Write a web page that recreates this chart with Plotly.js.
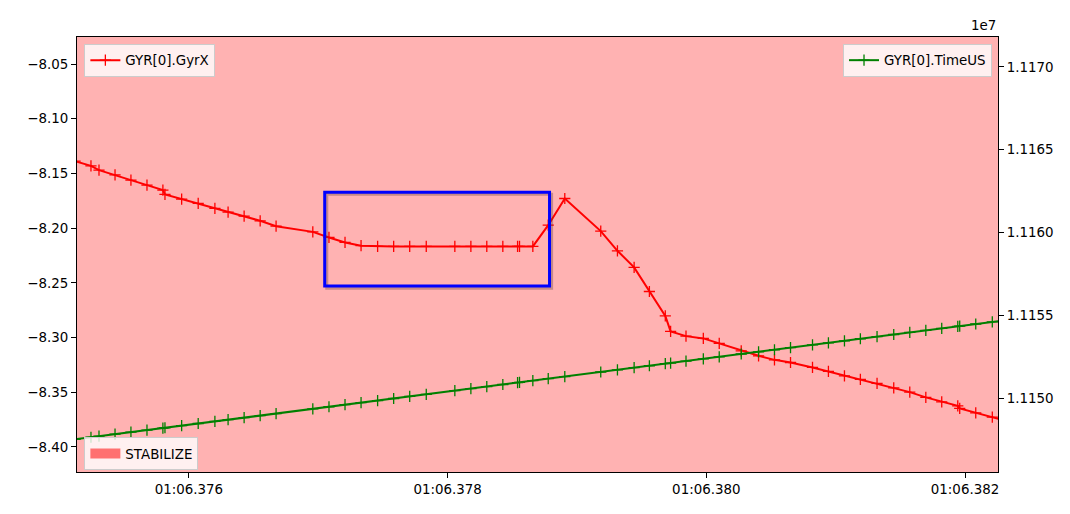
<!DOCTYPE html>
<html>
<head>
<meta charset="utf-8">
<script src="https://cdn.plot.ly/plotly-3.0.1.min.js"></script>
<style>html,body{margin:0;padding:0;background:#fff}#chart{width:1070px;height:514px}</style>
</head>
<body>
<div id="chart"></div>
<script>
// Time of each GYR[0] sample, in ms after 01:06 (mm:ss)
const timeMs = [375.120, 375.243, 375.305, 375.429, 375.552, 375.676, 375.799, 375.815, 375.944, 376.072,
  376.201, 376.303, 376.427, 376.551, 376.674, 376.958, 377.083, 377.207, 377.331, 377.459,
  377.583, 377.707, 377.835, 378.056, 378.180, 378.303, 378.427, 378.541, 378.556, 378.659,
  378.778, 378.906, 379.184, 379.313, 379.442, 379.560, 379.683, 379.724, 379.843, 379.977,
  380.100, 380.270, 380.404, 380.527, 380.651, 380.821, 380.944, 381.068, 381.191, 381.320,
  381.449, 381.573, 381.697, 381.820, 381.944, 381.959, 382.083, 382.211, 382.332];

// GYR[0].GyrX (left axis)
const gyrX = [-8.1388, -8.1431, -8.1470, -8.1513, -8.1561, -8.1607, -8.1653, -8.1692, -8.1735, -8.1774,
  -8.1820, -8.1854, -8.1890, -8.1933, -8.1982, -8.2034, -8.2085, -8.2131, -8.2160, -8.2167,
  -8.2167, -8.2167, -8.2167, -8.2167, -8.2167, -8.2167, -8.2167, -8.2167, -8.2167, -8.2167,
  -8.1973, -8.1729, -8.2027, -8.2207, -8.2359, -8.2579, -8.2802, -8.2944, -8.2987, -8.3008,
  -8.3054, -8.3121, -8.3167, -8.3204, -8.3228, -8.3273, -8.3310, -8.3350, -8.3383, -8.3419,
  -8.3460, -8.3499, -8.3547, -8.3588, -8.3624, -8.3648, -8.3688, -8.3727, -8.3767];

// GYR[0].TimeUS (right axis)
const timeUS = [11147516, 11147639, 11147701, 11147825, 11147948, 11148072, 11148195, 11148211, 11148340, 11148468,
  11148597, 11148699, 11148823, 11148947, 11149070, 11149354, 11149479, 11149603, 11149727, 11149855,
  11149979, 11150103, 11150231, 11150452, 11150576, 11150699, 11150823, 11150937, 11150952, 11151055,
  11151174, 11151302, 11151580, 11151709, 11151838, 11151956, 11152079, 11152120, 11152239, 11152373,
  11152496, 11152666, 11152800, 11152923, 11153047, 11153217, 11153340, 11153464, 11153587, 11153716,
  11153845, 11153969, 11154093, 11154216, 11154340, 11154355, 11154479, 11154607, 11154728];

// Flight mode span
const modeNames = ['STABILIZE'];
const modeStart = [375.0];
const modeEnd = [382.5];

// Highlight box (time ms, GyrX value)
const boxTime = [377.050, 378.788];
const boxGyr = [-8.1671, -8.2530];

// Tick labels
const xTickVals = [376, 378, 380, 382];
const xTickText = ['01:06.376', '01:06.378', '01:06.380', '01:06.382'];
const y2TickVals = [11150000, 11155000, 11160000, 11165000, 11170000];
const y2TickText = ['1.1150', '1.1155', '1.1160', '1.1165', '1.1170'];

const FONT = {family: 'DejaVu Sans', size: 13.4, color: '#000'};
const legendBase = {bgcolor: 'rgba(255,255,255,0.8)', bordercolor: '#cccccc', borderwidth: 1,
  font: FONT, itemwidth: 30, tracegroupgap: 0};

const traces = [
  {x: timeMs, y: gyrX, name: 'GYR[0].GyrX', mode: 'lines+markers', yaxis: 'y', legend: 'legend',
   line: {color: '#ff0000', width: 2},
   marker: {symbol: 'cross-thin', size: 8, color: '#ff0000', line: {color: '#ff0000', width: 1.3}}},
  {x: timeMs, y: timeUS, name: 'GYR[0].TimeUS', mode: 'lines+markers', yaxis: 'y2', legend: 'legend2',
   line: {color: '#008000', width: 2},
   marker: {symbol: 'cross-thin', size: 8, color: '#008000', line: {color: '#008000', width: 1.3}}},
  {x: [null], y: [null], name: modeNames[0], mode: 'lines', legend: 'legend3',
   line: {color: 'rgba(255,70,70,0.75)', width: 10}}
];

const shapes = [];
for (let i = 0; i < modeNames.length; i++) {
  shapes.push({type: 'rect', xref: 'x', yref: 'paper', x0: modeStart[i], x1: modeEnd[i], y0: 0, y1: 1,
    fillcolor: 'rgba(255,0,0,0.3)', line: {width: 0}, layer: 'below'});
}
// shadow of highlight box
const sdx = 0.016, sdy = 0.0019;
shapes.push({type: 'rect', xref: 'x', yref: 'y', x0: boxTime[0] + sdx, x1: boxTime[1] + sdx,
  y0: boxGyr[0] - sdy, y1: boxGyr[1] - sdy, line: {color: 'rgba(90,60,60,0.35)', width: 3}});
shapes.push({type: 'rect', xref: 'x', yref: 'y', x0: boxTime[0], x1: boxTime[1],
  y0: boxGyr[0], y1: boxGyr[1], line: {color: '#0000ff', width: 3}});

const layout = {
  width: 1070, height: 514,
  margin: {l: 77, r: 72, t: 37, b: 42, pad: 0},
  paper_bgcolor: '#ffffff', plot_bgcolor: '#ffffff',
  font: FONT,
  showlegend: true,
  xaxis: {range: [375.135, 382.255], tickvals: xTickVals, ticktext: xTickText,
    showgrid: false, zeroline: false, showline: true, linecolor: '#000', linewidth: 1, mirror: true,
    ticks: 'outside', ticklen: 5, tickwidth: 1, tickcolor: '#000', tickfont: FONT},
  yaxis: {range: [-8.4229, -8.0253], tick0: -8.4, dtick: 0.05, tickformat: '.2f',
    showgrid: false, zeroline: false, showline: true, linecolor: '#000', linewidth: 1,
    ticks: 'outside', ticklen: 5, tickwidth: 1, tickcolor: '#000', tickfont: FONT},
  yaxis2: {overlaying: 'y', side: 'right', range: [11145540, 11171810],
    tickvals: y2TickVals, ticktext: y2TickText,
    showgrid: false, zeroline: false, showline: true, linecolor: '#000', linewidth: 1,
    ticks: 'outside', ticklen: 5, tickwidth: 1, tickcolor: '#000', tickfont: FONT},
  legend: Object.assign({}, legendBase, {x: 0.008, y: 0.984, xanchor: 'left', yanchor: 'top'}),
  legend2: Object.assign({}, legendBase, {x: 0.9935, y: 0.984, xanchor: 'right', yanchor: 'top'}),
  legend3: Object.assign({}, legendBase, {x: 0.008, y: 0.004, xanchor: 'left', yanchor: 'bottom'}),
  shapes: shapes,
  annotations: [{text: '1e7', xref: 'paper', yref: 'paper', x: 1, y: 1, xanchor: 'right', yanchor: 'bottom',
    yshift: 2, showarrow: false, font: FONT}]
};

Plotly.newPlot('chart', traces, layout, {displayModeBar: false, staticPlot: true});
</script>
</body>
</html>
